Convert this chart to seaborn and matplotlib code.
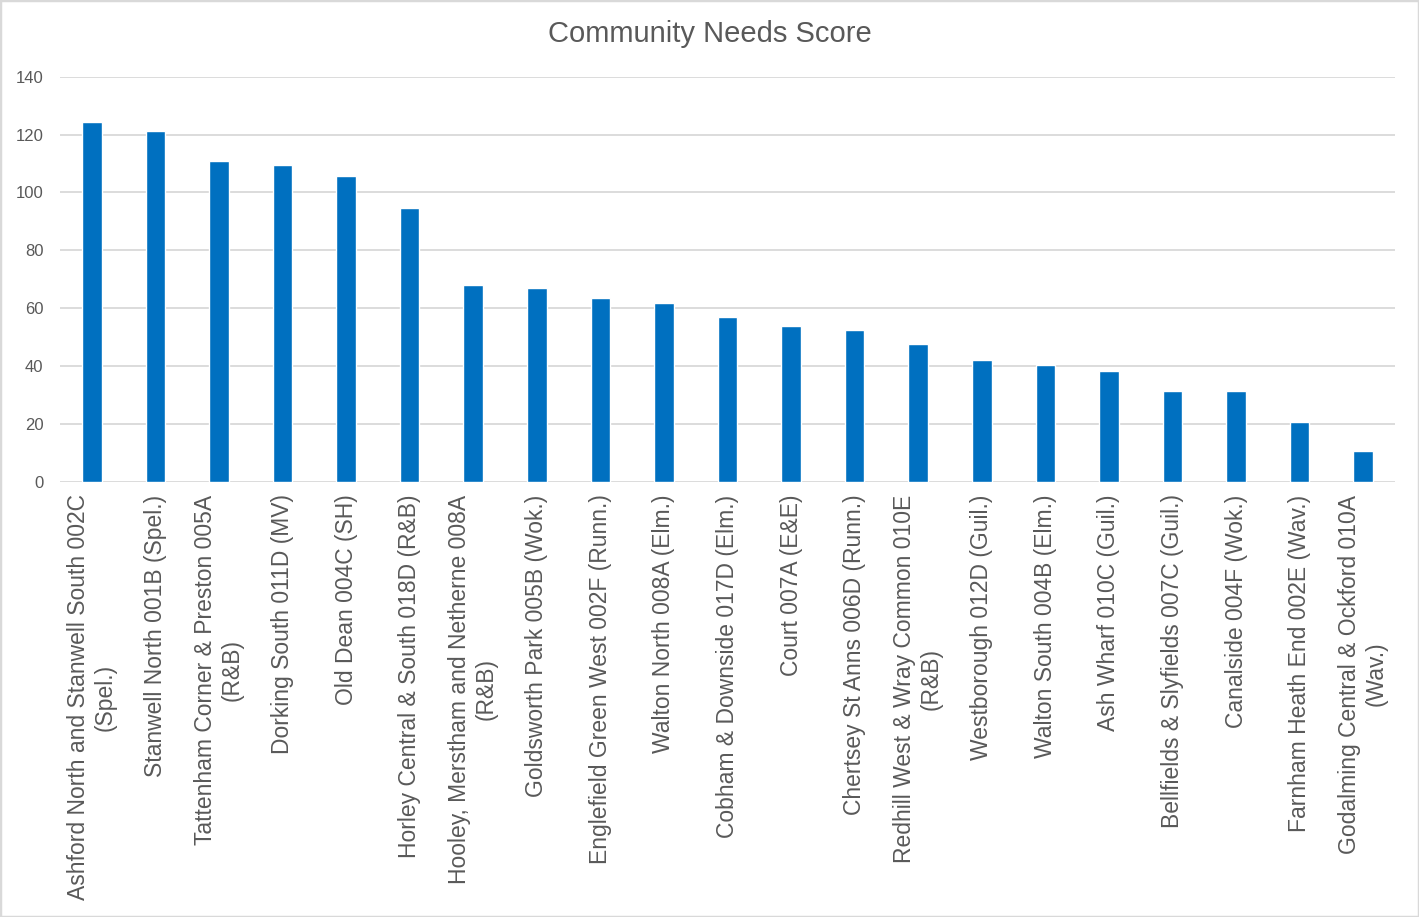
import matplotlib
matplotlib.use("Agg")
import matplotlib.pyplot as plt
import seaborn as sns
import pandas as pd
from matplotlib.patches import Rectangle

categories = [
    "Ashford North and Stanwell South 002C (Spel.)",
    "Stanwell North 001B (Spel.)",
    "Tattenham Corner & Preston 005A (R&B)",
    "Dorking South 011D (MV)",
    "Old Dean 004C (SH)",
    "Horley Central & South 018D (R&B)",
    "Hooley, Merstham and Netherne 008A (R&B)",
    "Goldsworth Park 005B (Wok.)",
    "Englefield Green West 002F (Runn.)",
    "Walton North 008A (Elm.)",
    "Cobham & Downside 017D (Elm.)",
    "Court 007A (E&E)",
    "Chertsey St Anns 006D (Runn.)",
    "Redhill West & Wray Common 010E (R&B)",
    "Westborough 012D (Guil.)",
    "Walton South 004B (Elm.)",
    "Ash Wharf 010C (Guil.)",
    "Bellfields & Slyfields 007C (Guil.)",
    "Canalside 004F (Wok.)",
    "Farnham Heath End 002E (Wav.)",
    "Godalming Central & Ockford 010A (Wav.)",
]
tick_labels = [
    "Ashford North and Stanwell South 002C\n(Spel.)",
    "Stanwell North 001B (Spel.)",
    "Tattenham Corner & Preston 005A\n(R&B)",
    "Dorking South 011D (MV)",
    "Old Dean 004C (SH)",
    "Horley Central & South 018D (R&B)",
    "Hooley, Merstham and Netherne 008A\n(R&B)",
    "Goldsworth Park 005B (Wok.)",
    "Englefield Green West 002F (Runn.)",
    "Walton North 008A (Elm.)",
    "Cobham & Downside 017D (Elm.)",
    "Court 007A (E&E)",
    "Chertsey St Anns 006D (Runn.)",
    "Redhill West & Wray Common 010E\n(R&B)",
    "Westborough 012D (Guil.)",
    "Walton South 004B (Elm.)",
    "Ash Wharf 010C (Guil.)",
    "Bellfields & Slyfields 007C (Guil.)",
    "Canalside 004F (Wok.)",
    "Farnham Heath End 002E (Wav.)",
    "Godalming Central & Ockford 010A\n(Wav.)",
]
scores = [124.3, 121.2, 110.9, 109.5, 105.7, 94.6, 68.0, 66.9, 63.5, 61.8,
          56.9, 53.8, 52.4, 47.6, 42.1, 40.3, 38.3, 31.3, 31.3, 20.6, 10.6]
y_ticks = [0, 20, 40, 60, 80, 100, 120, 140]

TEXT = "#595959"
GRID = "#D9D9D9"
BAR = "#0070C0"

sns.set_theme(style="white")
plt.rcParams["font.family"] = ["Liberation Sans", "DejaVu Sans"]

df = pd.DataFrame({"area": categories, "score": scores})

fig = plt.figure(figsize=(14.19, 9.17), dpi=100)
ax = fig.add_axes([60 / 1419, 1 - 482 / 917, (1395 - 60) / 1419, (482 - 76.7) / 917])

sns.barplot(data=df, x="area", y="score", color=BAR, width=0.31,
            saturation=1, ax=ax, zorder=3)

ax.set_ylim(0, 140)
ax.set_yticks(y_ticks)
ax.set_xlim(-0.5, len(categories) - 0.5)
ax.yaxis.grid(True, color=GRID, linewidth=1.3, zorder=0)
ax.set_axisbelow(True)
for s in ax.spines.values():
    s.set_visible(False)
ax.set_xlabel("")
ax.set_ylabel("")
ax.set_xticks(range(len(tick_labels)))
ax.set_xticklabels(tick_labels, rotation=90, fontsize=16.5, color=TEXT,
                   ha="center", va="top", multialignment="center")
ax.tick_params(axis="x", length=0, pad=9)
ax.tick_params(axis="y", length=0, pad=12, labelsize=12, labelcolor=TEXT)

fig.text(0.5, 1 - 34 / 917, "Community Needs Score", ha="center", va="center",
         fontsize=21, color=TEXT)

fig.patches.append(Rectangle((0, 0), 1, 1, transform=fig.transFigure,
                             fill=False, edgecolor=GRID, linewidth=2.5))

fig.savefig("out.png", dpi=100)
